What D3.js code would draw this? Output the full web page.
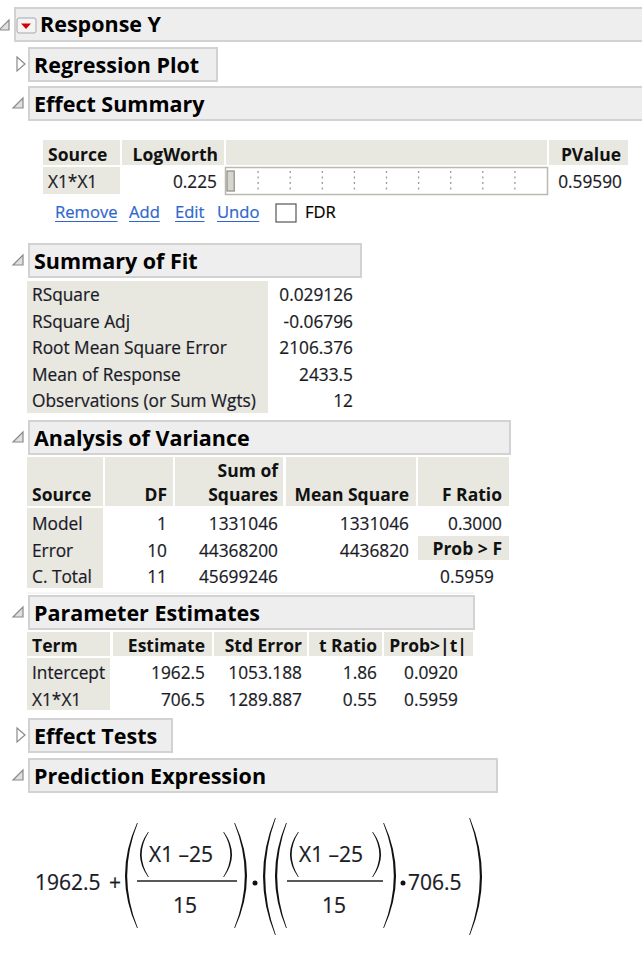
<!DOCTYPE html>
<html><head><meta charset="utf-8">
<script src="https://cdn.jsdelivr.net/npm/d3@7"></script>
<style>html,body{margin:0;padding:0;background:#fff;overflow:hidden}</style>
</head><body><svg id="c" width="642" height="953"></svg>
<script>
// ---------- data ----------
const effectSources = ["X1*X1"];
const effectLogWorth = [0.225];
const effectPValues = ["0.59590"];
const logWorthTicks = [1,2,3,4,5,6,7,8,9];
const effectLinks = ["Remove","Add","Edit","Undo"];

const fitLabels = ["RSquare","RSquare Adj","Root Mean Square Error","Mean of Response","Observations (or Sum Wgts)"];
const fitValues = ["0.029126","-0.06796","2106.376","2433.5","12"];

const anovaSources = ["Model","Error","C. Total"];
const anovaDF = ["1","10","11"];
const anovaSS = ["1331046","44368200","45699246"];
const anovaMS = ["1331046","4436820",""];
const anovaFRatio = "0.3000";
const anovaProbF = "0.5959";

const paramTerms = ["Intercept","X1*X1"];
const paramEstimate = ["1962.5","706.5"];
const paramStdErr = ["1053.188","1289.887"];
const paramTRatio = ["1.86","0.55"];
const paramProb = ["0.0920","0.5959"];

const predIntercept = "1962.5";
const predCenter = "25";
const predScale = "15";
const predCoef = "706.5";

// ---------- drawing ----------
const FONT = "'Open Sans','Noto Sans',sans-serif";
const svg = d3.select("#c");
const HDR_BG = "#e8e8e1";
const TXT = "#1a1a26";
const BODY = 17.3, HEAD = 17.5, TITLE = 21.5;

function txt(x, y, s, o = {}) {
  const t = svg.append("text").attr("x", x).attr("y", y)
    .attr("font-family", FONT)
    .attr("font-size", o.size || BODY)
    .attr("font-weight", o.bold ? "bold" : "normal")
    .attr("text-anchor", o.anchor || "start")
    .attr("fill", o.fill || TXT)
    .text(s);
  if (!o.bold) t.attr("stroke", o.fill || TXT).attr("stroke-width", 0.2);
  return t;
}
function head(x, y, s, anchor) { return txt(x, y, s, { bold: true, size: HEAD, anchor: anchor, fill: "#111" }); }
function rect(x, y, w, h, fill, stroke, sw) {
  return svg.append("rect").attr("x", x).attr("y", y).attr("width", w).attr("height", h)
    .attr("fill", fill).attr("stroke", stroke || "none").attr("stroke-width", sw || 0);
}
function openTri(x, y) {
  svg.append("path").attr("d", `M${x},${y+10} L${x+10},${y} L${x+10},${y+10} Z`)
    .attr("fill", "#e0e0e0").attr("stroke", "#8a8a8a").attr("stroke-width", 1.2);
}
function closedTri(x, y) {
  svg.append("path").attr("d", `M${x},${y} L${x+8},${y+7} L${x},${y+14} Z`)
    .attr("fill", "#fff").attr("stroke", "#8a8a8a").attr("stroke-width", 1.2);
}
function outline(x, y, w, title, open) {
  rect(x, y, w, 33, "#eeeeee", "#d2d2d2", 2);
  txt(x + 5, y + 25, title, { bold: true, size: TITLE, fill: "#000" });
  if (open) openTri(x - 16, y + 11); else closedTri(x - 12, y + 9);
}

// Response Y
rect(15, 8, 660, 33, "#eeeeee", "#d2d2d2", 2);
svg.append("path").attr("d", "M-1,30 L9,20 L9,30 Z").attr("fill", "#e0e0e0").attr("stroke", "#8a8a8a").attr("stroke-width", 1.2);
rect(17, 18, 19, 15, "#f4f4f4", "#a8a8a8", 1).attr("rx", 2);
svg.append("path").attr("d", "M21,23.5 L31,23.5 L26,29 Z").attr("fill", "#d40000");
txt(40, 32, "Response Y", { bold: true, size: TITLE, fill: "#000" });

outline(29, 48, 188, "Regression Plot", false);
outline(29, 87, 640, "Effect Summary", true);

// ---- Effect Summary table ----
const lwScale = d3.scaleLinear().domain([0, 10]).range([226, 547]);
rect(43, 140, 77, 25, HDR_BG);
rect(122, 140, 102, 25, HDR_BG);
rect(226, 140, 321, 25, HDR_BG);
rect(549, 140, 79, 25, HDR_BG);
head(48, 161, "Source");
head(218, 161, "LogWorth", "end");
head(621, 161, "PValue", "end");

effectSources.forEach((s, i) => {
  const y = 167 + i * 27;
  rect(43, y, 77, 27, HDR_BG);
  txt(48, y + 21, s);
  txt(217, y + 21, effectLogWorth[i].toFixed(3), { anchor: "end" });
  rect(lwScale(0) - 0.5, y + 0.5, lwScale(10) - lwScale(0) + 1, 27, "#fff", "#b9b9b0", 1.5);
  svg.append("g").selectAll("line").data(logWorthTicks).join("line")
    .attr("x1", d => lwScale(d)).attr("x2", d => lwScale(d))
    .attr("y1", y + 4).attr("y2", y + 24)
    .attr("stroke", "#9a9a9a").attr("stroke-width", 1.3).attr("stroke-dasharray", "2,3.5");
  rect(lwScale(0) + 1, y + 4, lwScale(effectLogWorth[i]) - lwScale(0), 20, "#d6d6ce", "#8c8c84", 1.2);
  txt(622, y + 21, effectPValues[i], { anchor: "end" });
});

// links
const linkX = [55, 129, 175, 217];
effectLinks.forEach((l, i) => {
  const t = txt(linkX[i], 218, l, { fill: "#2f66cc", size: 16.6 });
  const w = t.node().getComputedTextLength();
  svg.append("line").attr("x1", linkX[i]).attr("x2", linkX[i] + w).attr("y1", 221.5).attr("y2", 221.5)
    .attr("stroke", "#2f66cc").attr("stroke-width", 1);
});
rect(276, 204, 20, 18, "#fff", "#555", 1.2);
txt(305, 218, "FDR", { fill: "#000", size: 16.6 });

// ---- Summary of Fit ----
outline(29, 244, 332, "Summary of Fit", true);
rect(27, 281, 241, 132, HDR_BG);
fitLabels.forEach((l, i) => {
  const y = 301 + i * 26.5;
  txt(32, y, l);
  txt(353, y, fitValues[i], { anchor: "end" });
});

// ---- Analysis of Variance ----
outline(29, 421, 481, "Analysis of Variance", true);
const aCols = [[27, 76], [105, 68], [175, 108], [286, 130], [418, 91]];
aCols.forEach(c => rect(c[0], 457, c[1], 49, HDR_BG));
head(32, 501, "Source");
head(167, 501, "DF", "end");
head(278, 477, "Sum of", "end");
head(278, 501, "Squares", "end");
head(409, 501, "Mean Square", "end");
head(502, 501, "F Ratio", "end");
rect(27, 508, 76, 80, HDR_BG);
anovaSources.forEach((s, i) => {
  const y = 530 + i * 26.5;
  txt(32, y, s);
  txt(167, y, anovaDF[i], { anchor: "end" });
  txt(278, y, anovaSS[i], { anchor: "end" });
  txt(409, y, anovaMS[i], { anchor: "end" });
});
txt(502, 530, anovaFRatio, { anchor: "end" });
rect(418, 536, 91, 24, HDR_BG);
head(502, 555, "Prob > F", "end");
txt(494, 583, anovaProbF, { anchor: "end" });
svg.append("line").attr("x1", 27).attr("x2", 474).attr("y1", 593).attr("y2", 593)
  .attr("stroke", "#ececec").attr("stroke-width", 1);

// ---- Parameter Estimates ----
outline(29, 596, 445, "Parameter Estimates", true);
const pCols = [[27, 83], [113, 99], [214, 93], [309, 73], [384, 89]];
pCols.forEach(c => rect(c[0], 632, c[1], 24, HDR_BG));
head(32, 652, "Term");
head(205, 652, "Estimate", "end");
head(302, 652, "Std Error", "end");
head(377, 652, "t Ratio", "end");
head(467, 652, "Prob>|t|", "end");
rect(27, 658, 83, 52, HDR_BG);
paramTerms.forEach((t, i) => {
  const y = 679 + i * 26.5;
  txt(32, y, t);
  txt(205, y, paramEstimate[i], { anchor: "end" });
  txt(302, y, paramStdErr[i], { anchor: "end" });
  txt(377, y, paramTRatio[i], { anchor: "end" });
  txt(458, y, paramProb[i], { anchor: "end" });
});

// ---- Effect Tests / Prediction Expression ----
outline(29, 719, 143, "Effect Tests", false);
outline(29, 759, 468, "Prediction Expression", true);

// ---- formula ----
function paren(xEnd, xBulge, y0, y1, left, th) {
  const ym = (y0 + y1) / 2;
  const xc = 2 * xBulge - xEnd;
  const d = left ? 1 : -1;
  const p = `M${xEnd},${y0} Q${xc},${ym} ${xEnd},${y1} L${xEnd + d * 0.8},${y1} Q${xc + d * th * 2},${ym} ${xEnd + d * 0.8},${y0} Z`;
  svg.append("path").attr("d", p).attr("fill", "#111");
}
const FS = 21;
txt(35, 890, predIntercept, { size: FS });
txt(115, 890, "+", { size: FS, anchor: "middle" });
// first group
paren(137, 125, 823, 928, true, 1.8);
paren(148, 140, 832, 877, true, 1.3);
txt(149, 862, "X1 –" + predCenter, { size: FS });
paren(224, 232, 832, 877, false, 1.3);
svg.append("line").attr("x1", 137).attr("x2", 237).attr("y1", 881).attr("y2", 881).attr("stroke", "#222").attr("stroke-width", 1.5);
txt(185, 913, predScale, { size: FS, anchor: "middle" });
paren(235, 247, 823, 928, false, 1.8);
svg.append("circle").attr("cx", 255).attr("cy", 883).attr("r", 2.5).attr("fill", "#111");
// second group
paren(275, 263, 818, 935, true, 1.8);
paren(286, 275, 823, 928, true, 1.8);
paren(298, 290, 832, 877, true, 1.3);
txt(299, 862, "X1 –" + predCenter, { size: FS });
paren(373, 381, 832, 877, false, 1.3);
svg.append("line").attr("x1", 287).attr("x2", 383).attr("y1", 881).attr("y2", 881).attr("stroke", "#222").attr("stroke-width", 1.5);
txt(334, 913, predScale, { size: FS, anchor: "middle" });
paren(384, 396, 823, 928, false, 1.8);
svg.append("circle").attr("cx", 403).attr("cy", 883).attr("r", 2.5).attr("fill", "#111");
txt(408, 890, predCoef, { size: FS });
paren(470, 482, 818, 935, false, 1.8);
</script>
</body></html>
